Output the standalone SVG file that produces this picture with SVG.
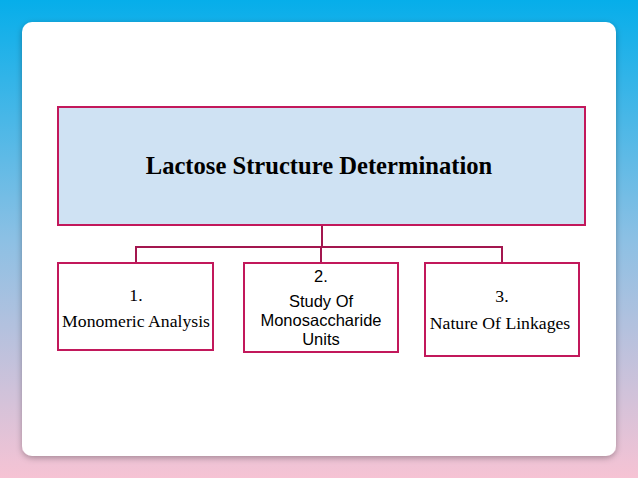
<svg xmlns="http://www.w3.org/2000/svg" width="638" height="478" viewBox="0 0 638 478">
<defs>
<linearGradient id="bg" x1="0" y1="0" x2="0" y2="1">
<stop offset="0" stop-color="#06aeea"/>
<stop offset="0.5" stop-color="#8cc0e4"/>
<stop offset="1" stop-color="#f6c3d4"/>
</linearGradient>
<filter id="sh" x="-5%" y="-5%" width="110%" height="110%"><feDropShadow dx="0" dy="2" stdDeviation="3" flood-opacity="0.3"/></filter>
</defs>
<style>
.box{fill:#ffffff;stroke:#c2185b;stroke-width:2}
.serif{font-family:"Liberation Serif","Times New Roman",serif;font-size:17.7px;fill:#000;text-anchor:middle}
.sans{font-family:"Liberation Sans",Arial,sans-serif;font-size:16.5px;fill:#000;text-anchor:middle}
.conn{fill:none;stroke:#a3174f;stroke-width:2}
</style>
<rect width="638" height="478" fill="url(#bg)"/>
<rect x="22" y="22" width="594" height="434" rx="10" fill="#fff" filter="url(#sh)"/>
<g id="connectors">
<path class="conn" d="M322 225V247M136 262V247H502V262M321 247V262"/>
</g>
<g id="root">
<rect x="58" y="107" width="527" height="118" fill="#cfe2f3" stroke="#c2185b" stroke-width="2"/>
<text x="319" y="174" style="font-family:'Liberation Serif','Times New Roman',serif;font-size:24.6px;font-weight:bold;text-anchor:middle">Lactose Structure Determination</text>
</g>
<g id="n1">
<rect class="box" x="58" y="263" width="155" height="87"/>
<text class="serif" x="136" y="301">1.</text>
<text class="serif" x="136" y="327">Monomeric Analysis</text>
</g>
<g id="n2">
<rect class="box" x="244" y="263" width="154" height="89"/>
<text class="sans" x="321" y="282">2.</text>
<text class="sans" x="321" y="307">Study Of</text>
<text class="sans" x="321" y="326">Monosaccharide</text>
<text class="sans" x="321" y="345">Units</text>
</g>
<g id="n3">
<rect class="box" x="425" y="263" width="154" height="93"/>
<text class="serif" x="502" y="302">3.</text>
<text class="serif" x="500" y="329">Nature Of Linkages</text>
</g>
</svg>
